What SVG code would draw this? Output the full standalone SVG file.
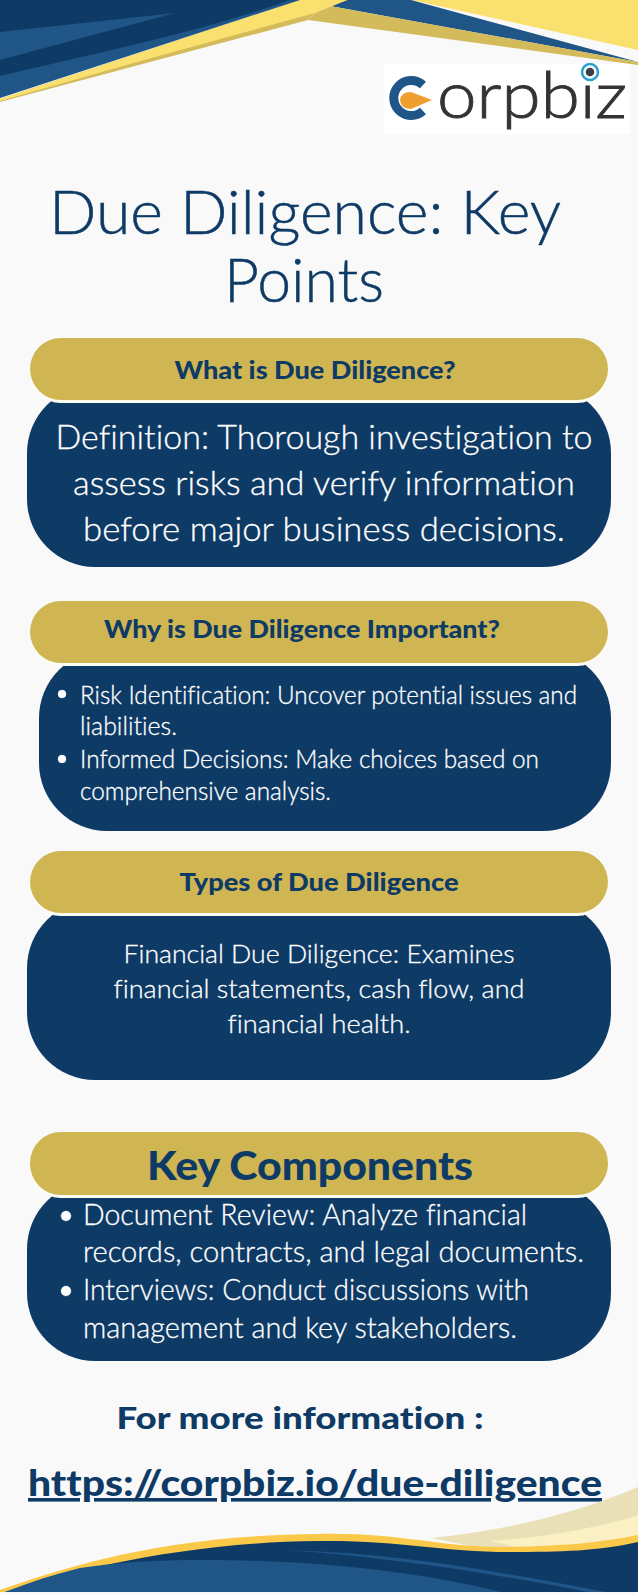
<svg xmlns="http://www.w3.org/2000/svg" width="638" height="1595" viewBox="0 0 638 1595">
<style>
text{font-variant-ligatures:none}
.t{font-family:"Lato","Noto Sans",sans-serif}
.h{font-family:"Lato","Noto Sans",sans-serif;font-weight:900;fill:#0e3a66;text-anchor:middle}
.b{font-family:"Lato","Noto Sans",sans-serif;font-weight:300;fill:#fff;stroke:#fff;stroke-width:.3}
.m{text-anchor:middle}
.pill{fill:#cfb653}
.edge{fill:#fdfdf6}
.card{fill:#0e3a66}
.ttl{fill:#0e3a66;stroke:#0e3a66;stroke-width:.5;font-weight:300}
</style>
<rect width="638" height="1595" fill="#f9f9f9"/>
<g id="top-banner">
<polygon points="411,0 638,0 638,50" fill="#f9e06f"/>
<polygon points="347,0 411,0 638,62 330,6" fill="#1f5687"/>
<polygon points="330,6 638,62 638,65 308,20 315,13" fill="#d3bb5c"/>
<polygon points="300,0 347,0 315,13 308,20 0,102 0,99" fill="#d3bb5c"/>
<polygon points="300,0 347,0 315,13 130,64 0,101 0,99" fill="#f9e06f"/>
<polygon points="0,0 300,0 0,98" fill="#1f5687"/>
<path d="M0 0 L290 0 C200 32 100 52 0 76Z" fill="#0e3a66"/>
<polygon points="0,32 175,13 0,60" fill="#1f5687"/>
</g>
<g id="logo">
<rect x="384" y="64" width="246" height="70" fill="#fff"/>
<path d="M423 85 A17.500 17.500 0 1 0 423 111" fill="none" stroke="#1f5687" stroke-width="9"/>
<path d="M400 100 Q401 92 411 92 L432 100 L411 109 Q401 109 400 100Z" fill="#ee9f2d"/>
<text class="t" x="437" y="118" font-size="65" font-weight="300" fill="#333" stroke="#333" stroke-width=".9" textLength="190" lengthAdjust="spacingAndGlyphs">orpbiz</text>
<circle cx="590" cy="72" r="8" fill="#fff" stroke="#29a0d2" stroke-width="2.500"/>
<circle cx="590" cy="72" r="4.300" fill="#3c4148"/>
</g>
<g id="title">
<text class="t m ttl" x="305" y="234" font-size="62" textLength="512" lengthAdjust="spacingAndGlyphs">Due Diligence: Key</text>
<text class="t m ttl" x="304" y="302" font-size="62" textLength="160" lengthAdjust="spacingAndGlyphs">Points</text>
</g>
<g id="card-what">
<rect class="card" x="27" y="385" width="584" height="182" rx="68"/>
<rect class="edge" x="30" y="341" width="578" height="62" rx="31"/>
<rect class="pill" x="30" y="338" width="578" height="62" rx="31"/>
<text class="h" x="315" y="379" font-size="25.500" textLength="281" lengthAdjust="spacingAndGlyphs">What is Due Diligence?</text>
<g class="b m" font-size="34">
<text x="324" y="449" textLength="537" lengthAdjust="spacingAndGlyphs">Definition: Thorough investigation to</text>
<text x="324" y="495" textLength="502" lengthAdjust="spacingAndGlyphs">assess risks and verify information</text>
<text x="324" y="541" textLength="482" lengthAdjust="spacingAndGlyphs">before major business decisions.</text>
</g>
</g>
<g id="card-why">
<rect class="card" x="39" y="650" width="572" height="181" rx="68"/>
<rect class="edge" x="30" y="604" width="578" height="62" rx="31"/>
<rect class="pill" x="30" y="601" width="578" height="62" rx="31"/>
<text class="h" x="302" y="638" font-size="25.500" textLength="396" lengthAdjust="spacingAndGlyphs">Why is Due Diligence Important?</text>
<g class="b" font-size="25">
<circle cx="62" cy="694" r="4" fill="#fff"/>
<text x="80" y="704" textLength="497" lengthAdjust="spacingAndGlyphs">Risk Identification: Uncover potential issues and</text>
<text x="80" y="735" textLength="97" lengthAdjust="spacingAndGlyphs">liabilities.</text>
<circle cx="62" cy="759" r="4" fill="#fff"/>
<text x="80" y="768" textLength="459" lengthAdjust="spacingAndGlyphs">Informed Decisions: Make choices based on</text>
<text x="80" y="800" textLength="251" lengthAdjust="spacingAndGlyphs">comprehensive analysis.</text>
</g>
</g>
<g id="card-types">
<rect class="card" x="27" y="900" width="584" height="180" rx="68"/>
<rect class="edge" x="30" y="854" width="578" height="62" rx="31"/>
<rect class="pill" x="30" y="851" width="578" height="62" rx="31"/>
<text class="h" x="319" y="891" font-size="25.500" textLength="279" lengthAdjust="spacingAndGlyphs">Types of Due Diligence</text>
<g class="b m" font-size="26">
<text x="319" y="963" textLength="391" lengthAdjust="spacingAndGlyphs">Financial Due Diligence: Examines</text>
<text x="319" y="998" textLength="411" lengthAdjust="spacingAndGlyphs">financial statements, cash flow, and</text>
<text x="319" y="1033" textLength="183" lengthAdjust="spacingAndGlyphs">financial health.</text>
</g>
</g>
<g id="card-key">
<rect class="card" x="27" y="1181" width="584" height="180" rx="68"/>
<rect class="edge" x="30" y="1135" width="578" height="63" rx="31"/>
<rect class="pill" x="30" y="1132" width="578" height="63" rx="31"/>
<text class="h" x="310" y="1180" font-size="39" textLength="326" lengthAdjust="spacingAndGlyphs">Key Components</text>
<g class="b" font-size="29.500">
<circle cx="66" cy="1216" r="5" fill="#fff"/>
<text x="83" y="1225" textLength="444" lengthAdjust="spacingAndGlyphs">Document Review: Analyze financial</text>
<text x="83" y="1262" textLength="501" lengthAdjust="spacingAndGlyphs">records, contracts, and legal documents.</text>
<circle cx="66" cy="1291" r="5" fill="#fff"/>
<text x="83" y="1300" textLength="446" lengthAdjust="spacingAndGlyphs">Interviews: Conduct discussions with</text>
<text x="83" y="1338" textLength="434" lengthAdjust="spacingAndGlyphs">management and key stakeholders.</text>
</g>
</g>
<g id="footer-text">
<text class="h" x="300" y="1429" font-size="31" textLength="367" lengthAdjust="spacingAndGlyphs">For more information :</text>
<text class="h" x="315" y="1496" font-size="36" text-decoration="underline" textLength="574" lengthAdjust="spacingAndGlyphs">https://corpbiz.io/due-diligence</text>
</g>
<g id="bottom-banner">
<path d="M431 1538 C510 1530 580 1512 638 1487 L638 1540 L500 1552Z" fill="#e9e0b7"/>
<path d="M490 1541 C550 1537 600 1527 638 1515 L638 1538 L530 1550Z" fill="#fbf0c3"/>
<path d="M0 1590 C70 1565 170 1535 318 1534 C400 1532 440 1548 510 1547 C560 1546 600 1543 638 1535 L638 1543 L638 1592 L0 1592Z" fill="#fbc94a"/>
<path d="M5 1592 C70 1570 190 1542 318 1541 C400 1540 440 1552 510 1552 C560 1552 600 1551 638 1542 L638 1592Z" fill="#0e3a66"/>
<path d="M5 1592 C30 1582 55 1574 80 1568 C120 1562 160 1560 200 1560 C320 1560 420 1572 500 1592Z" fill="#1f5687"/>
<path d="M285 1550 C400 1553 500 1572 606 1592 L588 1592 C500 1575 400 1558 285 1550Z" fill="#1f5687"/>
</g>
</svg>
